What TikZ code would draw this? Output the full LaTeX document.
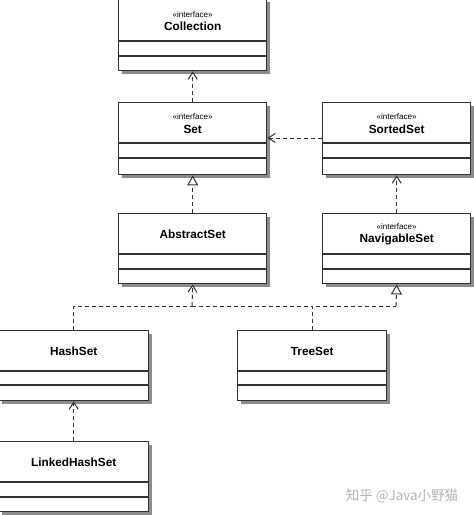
\documentclass[tikz,border=0pt]{standalone}
\usepackage{fontspec}
\newfontfamily\umlfont{Liberation Sans}
\newfontfamily\cjkfont{Noto Sans CJK SC}
\usetikzlibrary{arrows.meta,shadows}
\definecolor{edge}{HTML}{333333}
\definecolor{wm}{HTML}{B4B4B4}
\begin{document}
\begin{tikzpicture}[x=1pt,y=-1pt,
  umlbox/.style={draw=edge,line width=1.4pt,fill=white,anchor=north west,inner sep=0pt,
    minimum width=148pt,
    drop shadow={shadow xshift=3pt,shadow yshift=-3pt,fill=black!45,opacity=1}},
  stereo/.style={font=\umlfont\fontsize{8.1}{9}\selectfont,inner sep=0pt},
  title/.style={font=\umlfont\bfseries\fontsize{11.8}{13}\selectfont,inner sep=0pt},
  comp/.style={draw=edge,line width=1.1pt},
  dep/.style={draw=edge,line width=1pt,dash pattern=on 4pt off 3pt,
    -{Straight Barb[length=7pt,width=9pt,line width=1pt]}},
  gen/.style={draw=edge,line width=1pt,dash pattern=on 4pt off 3pt,
    -{Triangle[open,length=10pt,width=11pt,fill=white,line width=1pt]}},
  line/.style={draw=edge,line width=1pt,dash pattern=on 4pt off 3pt},
  wmark/.style={font=\cjkfont\fontsize{13.5}{15}\selectfont,text=wm,inner sep=0pt}
]
\useasboundingbox (0,0) rectangle (474,515);

% Collection
\node[umlbox,minimum height=72pt] (coll) at (118,-2) {};
\draw[comp] ([yshift=-43pt]coll.north west) -- ([yshift=-43pt]coll.north east);
\draw[comp] ([yshift=-58pt]coll.north west) -- ([yshift=-58pt]coll.north east);
\node[stereo] (collst) at ([yshift=-17pt]coll.north) {«interface»};
\node[title] (colltt) at ([yshift=-28pt]coll.north) {Collection};

% Set
\node[umlbox,minimum height=72pt] (set) at (118,102) {};
\draw[comp] ([yshift=-41pt]set.north west) -- ([yshift=-41pt]set.north east);
\draw[comp] ([yshift=-56pt]set.north west) -- ([yshift=-56pt]set.north east);
\node[stereo] (setst) at ([yshift=-15pt]set.north) {«interface»};
\node[title] (settt) at ([yshift=-27pt]set.north) {Set};

% SortedSet
\node[umlbox,minimum height=72pt] (sorted) at (322,102) {};
\draw[comp] ([yshift=-41pt]sorted.north west) -- ([yshift=-41pt]sorted.north east);
\draw[comp] ([yshift=-56pt]sorted.north west) -- ([yshift=-56pt]sorted.north east);
\node[stereo] (sortedst) at ([yshift=-15pt]sorted.north) {«interface»};
\node[title] (sortedtt) at ([yshift=-27pt]sorted.north) {SortedSet};

% AbstractSet
\node[umlbox,minimum height=70pt] (abs) at (118,213) {};
\draw[comp] ([yshift=-41pt]abs.north west) -- ([yshift=-41pt]abs.north east);
\draw[comp] ([yshift=-56pt]abs.north west) -- ([yshift=-56pt]abs.north east);
\node[title] (abstt) at ([yshift=-21pt]abs.north) {AbstractSet};

% NavigableSet
\node[umlbox,minimum height=70pt] (nav) at (322,213) {};
\draw[comp] ([yshift=-41pt]nav.north west) -- ([yshift=-41pt]nav.north east);
\draw[comp] ([yshift=-56pt]nav.north west) -- ([yshift=-56pt]nav.north east);
\node[stereo] (navst) at ([yshift=-14pt]nav.north) {«interface»};
\node[title] (navtt) at ([yshift=-26pt]nav.north) {NavigableSet};

% HashSet
\node[umlbox,minimum width=150pt,minimum height=70pt] (hash) at (-2,330) {};
\draw[comp] ([yshift=-41pt]hash.north west) -- ([yshift=-41pt]hash.north east);
\draw[comp] ([yshift=-55pt]hash.north west) -- ([yshift=-55pt]hash.north east);
\node[title] (hashtt) at ([yshift=-21pt]hash.north) {HashSet};

% TreeSet
\node[umlbox,minimum width=149pt,minimum height=70pt] (tree) at (237,330) {};
\draw[comp] ([yshift=-41pt]tree.north west) -- ([yshift=-41pt]tree.north east);
\draw[comp] ([yshift=-55pt]tree.north west) -- ([yshift=-55pt]tree.north east);
\node[title] (treett) at ([yshift=-21pt]tree.north) {TreeSet};

% LinkedHashSet
\node[umlbox,minimum width=150pt,minimum height=70pt] (linked) at (-2,441) {};
\draw[comp] ([yshift=-41pt]linked.north west) -- ([yshift=-41pt]linked.north east);
\draw[comp] ([yshift=-56pt]linked.north west) -- ([yshift=-56pt]linked.north east);
\node[title] (linkedtt) at ([yshift=-21pt]linked.north) {LinkedHashSet};

% connectors
\coordinate (jl) at (192,306);
\coordinate (jr) at (396,306);
\draw[dep] (set.north) -- (coll.south);
\draw[dep] ([yshift=-36pt]sorted.north west) -- ([yshift=-36pt]set.north east);
\draw[gen] (abs.north) -- (set.south);
\draw[dep] (nav.north) -- (sorted.south);
\draw[line] (hash.north) |- (jl);
\draw[line] (tree.north) |- (jl);
\draw[dep] (jl) -- (abs.south);
\draw[line] (tree.north) |- (jr);
\draw[gen] (jr) -- (nav.south);
\draw[dep] (linked.north) -- (hash.south);

% watermark
\node[wmark] (wmk) at (402,496) {知乎 @Java小野猫};
\end{tikzpicture}
\end{document}
